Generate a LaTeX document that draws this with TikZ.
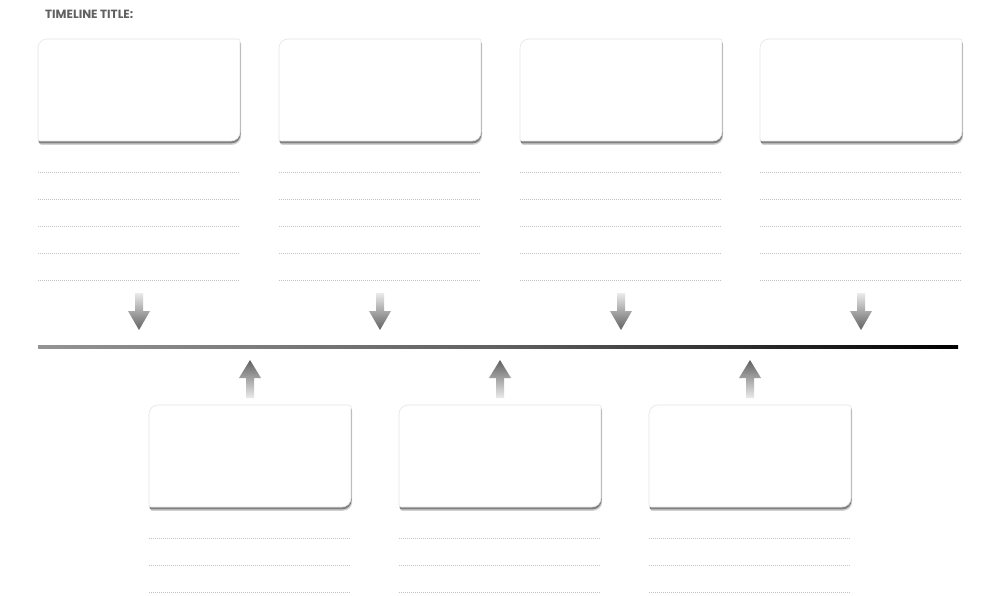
\documentclass[tikz,border=0pt]{standalone}
\usepackage{fontspec}
\newfontfamily\titlefont{Poppins}
\begin{document}
\begin{tikzpicture}[x=1pt,y=1pt]
\tikzset{
  dotline/.style={draw=black!24, line width=0.8pt, dash pattern=on 1pt off 1pt},
  titletext/.style={font=\titlefont\bfseries\fontsize{11.9}{13}\selectfont, text=black!62, inner sep=0pt, anchor=west},
  tbox/.pic={
    \path[fill=black!18, shift={(1.2,-3.8)}] (0,-9) arc[start angle=180,end angle=90,radius=9] -- (200,0) arc[start angle=90,end angle=0,radius=2] -- (202,-93) arc[start angle=0,end angle=-90,radius=9] -- (2,-102) arc[start angle=270,end angle=180,radius=2] -- cycle;
    \path[fill=black!50, shift={(0.5,-2.4)}] (0,-9) arc[start angle=180,end angle=90,radius=9] -- (200,0) arc[start angle=90,end angle=0,radius=2] -- (202,-93) arc[start angle=0,end angle=-90,radius=9] -- (2,-102) arc[start angle=270,end angle=180,radius=2] -- cycle;
    \path[fill=white, draw=black!10, line width=0.6pt] (0,-9) arc[start angle=180,end angle=90,radius=9] -- (200,0) arc[start angle=90,end angle=0,radius=2] -- (202,-93) arc[start angle=0,end angle=-90,radius=9] -- (2,-102) arc[start angle=270,end angle=180,radius=2] -- cycle;
  },
  downarrow/.pic={
    \shade[top color=black!8, bottom color=black!62] (-4,0) -- (4,0) -- (4,-18) -- (11,-18) -- (0,-37) -- (-11,-18) -- (-4,-18) -- cycle;
  },
  uparrow/.pic={
    \shade[top color=black!62, bottom color=black!8] (0,0) -- (11,-18) -- (4,-18) -- (4,-38) -- (-4,-38) -- (-4,-18) -- (-11,-18) -- cycle;
  }
}
\useasboundingbox[fill=white] (0,0) rectangle (1000,595);
% title
\node[titletext] (title) at (45,595-14) {TIMELINE TITLE:};
% timeline
\shade[left color=black!42, right color=black, middle color=black!62] (38,595-348.6) rectangle (958,595-345.6);
% top columns
\foreach \x in {38,279,520,760}{
  \pic at (\x,595-39) {tbox};
  \foreach \y in {172,199,226,253,280}{
    \draw[dotline] (\x,595-\y) -- (\x+201,595-\y);
  }
  \pic at (\x+101,595-293) {downarrow};
}
% bottom columns
\foreach \x in {149,399,649}{
  \pic at (\x,595-405) {tbox};
  \foreach \y in {538,565,592}{
    \draw[dotline] (\x,595-\y) -- (\x+201,595-\y);
  }
  \pic at (\x+101,595-360) {uparrow};
}
\end{tikzpicture}
\end{document}
